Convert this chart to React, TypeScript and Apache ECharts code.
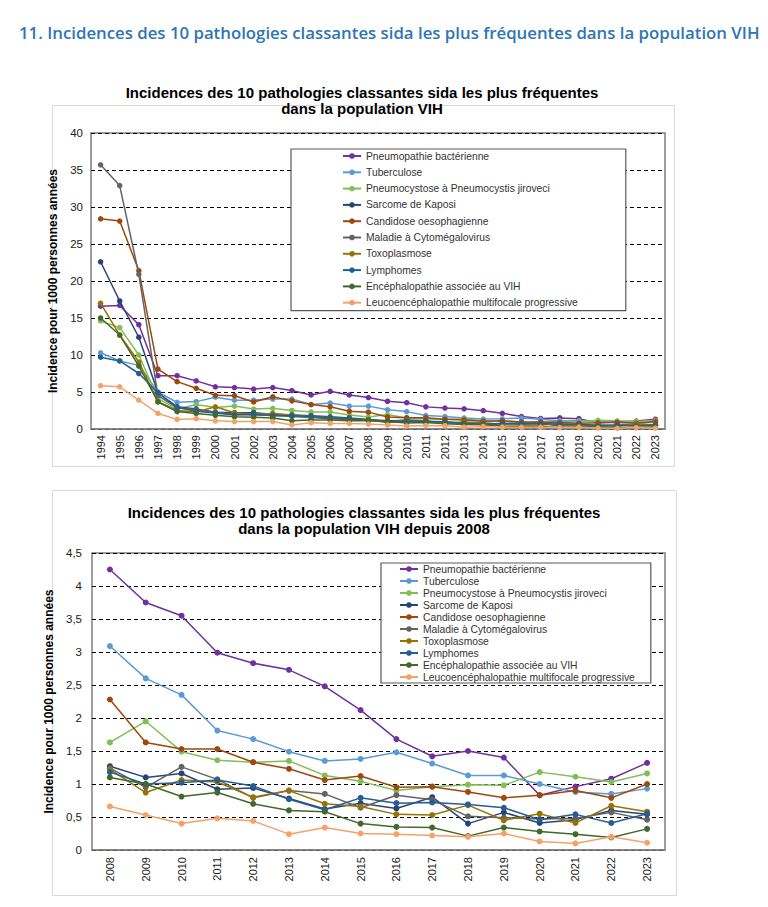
import React, { useEffect, useRef } from "react";
import * as echarts from "echarts";

const years = [
  "1994","1995","1996","1997","1998","1999","2000","2001","2002","2003",
  "2004","2005","2006","2007","2008","2009","2010","2011","2012","2013",
  "2014","2015","2016","2017","2018","2019","2020","2021","2022","2023",
];
const startIndex2008 = 14;

const names = [
  "Pneumopathie bactérienne",
  "Tuberculose",
  "Pneumocystose à Pneumocystis jiroveci",
  "Sarcome de Kaposi",
  "Candidose oesophagienne",
  "Maladie à Cytomégalovirus",
  "Toxoplasmose",
  "Lymphomes",
  "Encéphalopathie associée au VIH",
  "Leucoencéphalopathie multifocale progressive",
];

const colors = [
  "#7030A0", "#5B9BD5", "#7FBF55", "#264478", "#9E480E",
  "#636363", "#997300", "#255E91", "#43682B", "#F4A26A",
];

const pneumo = [16.6,16.7,14.1,7.2,7.2,6.5,5.7,5.6,5.4,5.6,5.2,4.6,5.1,4.6,4.25,3.75,3.55,2.99,2.83,2.73,2.48,2.12,1.68,1.42,1.5,1.4,0.83,0.96,1.08,1.32];
const tuber = [10.3,9.2,8.6,5.0,3.6,3.7,4.3,3.9,3.9,4.05,4.05,3.3,3.5,3.1,3.09,2.6,2.35,1.81,1.68,1.49,1.35,1.38,1.48,1.31,1.13,1.13,1.0,0.88,0.85,0.93];
const pneumocyst = [14.6,13.7,10.0,4.1,2.7,3.3,2.9,3.1,2.7,2.8,2.5,2.3,2.3,1.9,1.63,1.95,1.49,1.36,1.33,1.35,1.13,1.04,0.9,0.96,0.99,0.98,1.18,1.11,1.03,1.16];
const kaposi = [22.6,17.3,12.4,4.9,3.0,2.7,2.25,2.2,2.2,2.0,1.9,1.8,1.65,1.5,1.27,1.1,1.16,0.92,0.94,0.78,0.62,0.71,0.63,0.8,0.4,0.57,0.41,0.46,0.6,0.54];
const candid = [28.4,28.1,21.4,8.1,6.4,5.5,4.55,4.5,3.65,4.35,3.8,3.3,3.0,2.4,2.28,1.63,1.53,1.53,1.33,1.23,1.06,1.12,0.95,0.96,0.88,0.79,0.83,0.9,0.79,1.0];
const cmv = [35.7,32.9,20.9,4.5,2.9,2.6,2.25,2.0,1.9,1.85,1.7,1.55,1.4,1.3,1.24,0.95,1.26,1.07,0.79,0.9,0.85,0.64,0.83,0.76,0.51,0.49,0.47,0.48,0.57,0.46];
const toxo = [17.0,12.7,9.05,3.7,2.5,2.3,3.0,2.2,2.0,2.1,1.9,1.7,1.55,1.4,1.22,0.87,1.06,1.03,0.8,0.9,0.7,0.66,0.54,0.53,0.68,0.45,0.55,0.41,0.67,0.58];
const lymph = [9.7,9.2,7.5,4.9,2.9,2.4,2.15,1.9,2.0,1.8,1.8,1.7,1.5,1.4,1.18,1.0,1.02,1.06,0.97,0.77,0.61,0.79,0.71,0.72,0.69,0.64,0.46,0.54,0.41,0.55];
const enceph = [15.0,12.7,8.5,3.65,2.35,2.1,1.85,1.65,1.6,1.5,1.1,1.2,1.2,1.1,1.1,1.0,0.81,0.87,0.7,0.6,0.58,0.4,0.35,0.34,0.21,0.34,0.28,0.24,0.19,0.32];
const leuco = [5.85,5.7,3.9,2.1,1.3,1.4,1.1,1.0,1.0,1.0,0.55,0.85,0.75,0.75,0.66,0.53,0.4,0.48,0.44,0.24,0.34,0.25,0.24,0.22,0.2,0.25,0.13,0.1,0.2,0.11];

const seriesValues = [pneumo, tuber, pneumocyst, kaposi, candid, cmv, toxo, lymph, enceph, leuco];

const heading = "11. Incidences des 10 pathologies classantes sida les plus fréquentes dans la population VIH";
const title1 = "Incidences des 10 pathologies classantes sida les plus fréquentes\ndans la population VIH";
const title2 = "Incidences des 10 pathologies classantes sida les plus fréquentes\ndans la population VIH depuis 2008";
const yName = "Incidence pour 1000 personnes années";

const FONT = "Liberation Sans, Arial, sans-serif";

export default function App() {
  const ref = useRef<HTMLDivElement>(null);
  useEffect(() => {
    document.body.style.margin = "0";
    if (!ref.current) return;
    const chart = echarts.init(ref.current, undefined, { renderer: "svg" });
    const years2 = years.slice(startIndex2008);

    const axisLabel = { color: "#1a1a1a", fontSize: 11.5, fontFamily: FONT };
    const splitLine = { show: true, lineStyle: { color: "#000", type: [4, 3] as any, width: 1 } };

    const series: any[] = [];
    seriesValues.forEach((vals, i) => {
      series.push({
        name: names[i], type: "line", xAxisIndex: 0, yAxisIndex: 0,
        data: vals, symbol: "circle", symbolSize: 5.5,
        lineStyle: { width: 1.5, color: colors[i] }, itemStyle: { color: colors[i] },
        z: 2 + i,
      });
    });
    seriesValues.forEach((vals, i) => {
      series.push({
        name: names[i], type: "line", xAxisIndex: 1, yAxisIndex: 1,
        data: vals.slice(startIndex2008), symbol: "circle", symbolSize: 6,
        lineStyle: { width: 1.5, color: colors[i] }, itemStyle: { color: colors[i] },
        z: 2 + i,
      });
    });

    const legendBase = {
      orient: "vertical",
      data: names,
      borderColor: "#595959",
      borderWidth: 1.2,
      backgroundColor: "#fff",
      itemWidth: 18,
      itemHeight: 7,
      textStyle: { fontSize: 10.3, fontFamily: FONT, color: "#333", lineHeight: 12 },
      selectedMode: false,
      z: 20,
    };

    const titleStyle = { fontSize: 15, fontWeight: "bold", fontFamily: FONT, color: "#000", lineHeight: 16 };

    chart.setOption({
      animation: false,
      backgroundColor: "#fff",
      title: [
        { text: title1, left: 357, top: 79, textAlign: "center", textStyle: titleStyle },
        { text: title2, left: 359, top: 499, textAlign: "center", textStyle: titleStyle },
      ],
      graphic: [
        {
          type: "text", left: 19, top: 24,
          style: { text: heading, fill: "#2E75B6", fontSize: 16.8, fontWeight: 600, fontFamily: "Open Sans, Lato, sans-serif" },
        },
        {
          type: "rect", shape: { x: 52.5, y: 105.5, width: 622, height: 361 },
          style: { fill: "none", stroke: "#d9d9d9", lineWidth: 1 }, z: -1,
        },
        {
          type: "rect", shape: { x: 52.5, y: 490.5, width: 624, height: 405 },
          style: { fill: "none", stroke: "#d9d9d9", lineWidth: 1 }, z: -1,
        },
      ],
      legend: [
        { ...legendBase, left: 291, top: 149, itemGap: 4.3, padding: [1, 48, 2, 51] },
        { ...legendBase, left: 381, top: 563, itemGap: 0, padding: [0, 16, 0, 18] },
      ],
      grid: [
        { left: 91, top: 133, width: 574, height: 296, show: true, borderColor: "#7f7f7f", borderWidth: 1.5, backgroundColor: "transparent" },
        { left: 92, top: 553, width: 573, height: 297, show: true, borderColor: "#7f7f7f", borderWidth: 1.5, backgroundColor: "transparent" },
      ],
      xAxis: [
        {
          type: "category", gridIndex: 0, data: years, boundaryGap: true,
          axisTick: { show: false }, axisLine: { lineStyle: { color: "#7f7f7f", width: 1.5 } },
          axisLabel: { ...axisLabel, fontSize: 11, rotate: 90, interval: 0, margin: 6 },
        },
        {
          type: "category", gridIndex: 1, data: years2, boundaryGap: true,
          axisTick: { show: false }, axisLine: { lineStyle: { color: "#7f7f7f", width: 1.5 } },
          axisLabel: { ...axisLabel, fontSize: 11, rotate: 90, interval: 0, margin: 7 },
        },
      ],
      yAxis: [
        {
          type: "value", gridIndex: 0, min: 0, max: 40, interval: 5,
          axisLine: { show: false }, axisTick: { show: false },
          axisLabel: { ...axisLabel, margin: 8 }, splitLine,
          name: yName, nameLocation: "middle", nameGap: 26, nameRotate: 90,
          nameTextStyle: { fontSize: 12, fontWeight: "bold", fontFamily: FONT, color: "#000" },
        },
        {
          type: "value", gridIndex: 1, min: 0, max: 4.5, interval: 0.5,
          axisLine: { show: false }, axisTick: { show: false },
          axisLabel: { ...axisLabel, margin: 10, formatter: (v: number) => String(v).replace(".", ",") },
          splitLine,
          name: yName, nameLocation: "middle", nameGap: 27, nameRotate: 90,
          nameTextStyle: { fontSize: 12, fontWeight: "bold", fontFamily: FONT, color: "#000" },
        },
      ],
      series,
    });
    return () => chart.dispose();
  }, []);
  return <div ref={ref} style={{ width: 768, height: 907 }} />;
}
